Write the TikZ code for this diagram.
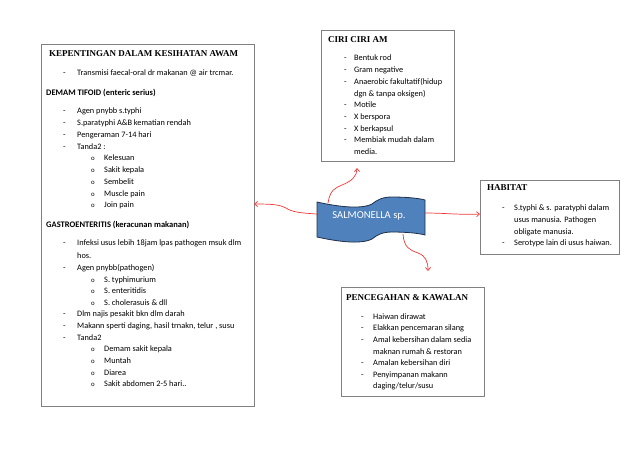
\documentclass[tikz,border=0pt]{standalone}
\usepackage{fontspec}
\setmainfont{Carlito}
\newfontfamily\headfont{Liberation Serif}
\usetikzlibrary{arrows.meta}
\definecolor{boxgray}{RGB}{128,128,128}
\definecolor{bannerblue}{RGB}{79,129,189}
\definecolor{bannerline}{RGB}{32,48,72}
\definecolor{arrowred}{RGB}{240,55,55}

\begin{document}
\begin{tikzpicture}[x=1pt,y=-1pt,
  box/.style={draw=boxgray,line width=0.9pt,inner sep=0pt,anchor=north west},
  heading/.style={anchor=west,inner sep=0pt,font=\headfont\bfseries\fontsize{9}{10}\selectfont},
  linetext/.style={anchor=west,inner sep=0pt,text height=5.8pt,text depth=1.6pt},
  subhead/.style={linetext,font=\bfseries\fontsize{8.5}{10}\selectfont},
  bodytext/.style={linetext,font=\fontsize{8.3}{10}\selectfont},
  dashmark/.style={linetext,font=\fontsize{8.3}{10}\selectfont},
  bulletmark/.style={linetext,font=\fontsize{6.8}{8}\selectfont},
  link/.style={draw=arrowred,line width=0.7pt,-{Straight Barb[length=3pt,width=5pt]}}
]
\useasboundingbox (0,0) rectangle (638,451);

% boxes
\node[box,minimum width=213pt,minimum height=362pt] (kepbox) at (41,44) {};
\node[box,minimum width=133pt,minimum height=131pt] (ciribox) at (321,30) {};
\node[box,minimum width=139pt,minimum height=74pt] (habbox) at (480,180) {};
\node[box,minimum width=143pt,minimum height=109pt] (cegahbox) at (341,287) {};

% kepentingan dalam kesihatan awam
\node[heading] (keptitle) at (49,54) {KEPENTINGAN DALAM KESIHATAN AWAM};
\node[subhead] (tifoid) at (46,93) {DEMAM TIFOID (enteric serius)};
\node[subhead] (gastro) at (46,225) {GASTROENTERITIS (keracunan makanan)};
\foreach \y [count=\i] in {73,111,123,135,147,243,268,314,326,338}
  \node[dashmark] (kepdash\i) at (63,\y) {-};
\foreach \y/\t [count=\i] in {73/Transmisi faecal-oral dr makanan @ air trcmar.,
    111/Agen pnybb s.typhi, 123/S.paratyphi A\&B kematian rendah,
    135/Pengeraman 7-14 hari, 147/Tanda2 :,
    243/Infeksi usus lebih 18jam lpas pathogen msuk dlm, 256/hos.,
    268/Agen pnybb(pathogen), 314/Dlm najis pesakit bkn dlm darah,
    {326/Makann sperti daging, hasil trnakn, telur , susu}, 338/Tanda2}
  \node[bodytext] (kep\i) at (77,\y) {\t};
\foreach \y/\t [count=\i] in {158/Kelesuan, 170/Sakit kepala, 182/Sembelit,
    194/Muscle pain, 205/Join pain, 280/S. typhimurium, 291/S. enteritidis,
    303/S. cholerasuis \& dll, 349/Demam sakit kepala, 361/Muntah,
    373/Diarea, 384/Sakit abdomen 2-5 hari..}
  {
  \node[bulletmark] (kepbul\i) at (91,\y) {o};
  \node[bodytext] (kepsub\i) at (104,\y) {\t};
  }

% ciri ciri am
\node[heading] (cirititle) at (328,40) {CIRI CIRI AM};
\foreach \y [count=\i] in {58,70,82,105,117,129,140}
  \node[dashmark] (ciridash\i) at (344,\y) {-};
\foreach \y/\t [count=\i] in {58/Bentuk rod, 70/Gram negative,
    82/Anaerobic fakultatif(hidup, 94/dgn \& tanpa oksigen), 105/Motile,
    117/X berspora, 129/X berkapsul, 140/Membiak  mudah dalam, 152/media.}
  \node[bodytext] (ciri\i) at (354,\y) {\t};

% habitat
\node[heading] (habtitle) at (487,188) {HABITAT};
\foreach \y [count=\i] in {208,243}
  \node[dashmark] (habdash\i) at (502,\y) {-};
\foreach \y/\t [count=\i] in {208/S.typhi \& s. paratyphi dalam,
    220/usus manusia. Pathogen, 232/obligate manusia.,
    243/Serotype lain di usus haiwan.}
  \node[bodytext] (hab\i) at (514,\y) {\t};

% pencegahan & kawalan
\node[heading] (cegahtitle) at (346,298) {PENCEGAHAN \& KAWALAN};
\foreach \y [count=\i] in {317,328,340,363,375}
  \node[dashmark] (cegahdash\i) at (361,\y) {-};
\foreach \y/\t [count=\i] in {317/Haiwan dirawat, 328/Elakkan pencemaran silang,
    340/Amal kebersihan dalam sedia, 352/maknan rumah \& restoran,
    363/Amalan kebersihan diri, 375/Penyimpanan makann, 386/{daging/telur/susu}}
  \node[bodytext] (cegah\i) at (373,\y) {\t};

% salmonella banner
\draw[fill=bannerblue,draw=bannerline,line width=0.8pt]
  (317,202) .. controls (335,206) and (360,210) .. (372,204)
  .. controls (377,200) and (382,197) .. (392,197)
  .. controls (405,197) and (418,198) .. (425,200)
  -- (425,235) .. controls (418,233) and (405,232) .. (392,232)
  .. controls (382,232) and (377,235) .. (372,239)
  .. controls (360,245) and (335,241) .. (317,237) -- cycle;
\node[text=white,font=\fontsize{10.6}{12}\selectfont,inner sep=0pt] (salmonella) at (369,216) {SALMONELLA sp.};

% arrows
\coordinate (fromtop) at (328,203);
\coordinate (fromleft) at (317,214);
\coordinate (fromright) at (425,213);
\coordinate (frombottom) at (403,234);
\coordinate (ciritip) at (357,168);
\coordinate (keptip) at (254,204);
\coordinate (habtip) at (480,214);
\coordinate (cegahtip) at (428,271);
\draw[link] (fromtop) .. controls (330,190) and (335,188) .. (342,185)
  .. controls (352,181) and (357,176) .. (ciritip);
\draw[link] (fromleft) .. controls (300,213) and (292,212) .. (286,208)
  .. controls (280,205) and (275,204) .. (keptip);
\draw[link] (fromright) .. controls (445,213) and (460,215) .. (habtip);
\draw[link] (frombottom) .. controls (404,248) and (410,250) .. (418,253)
  .. controls (426,256) and (428,262) .. (cegahtip);
\end{tikzpicture}
\end{document}
